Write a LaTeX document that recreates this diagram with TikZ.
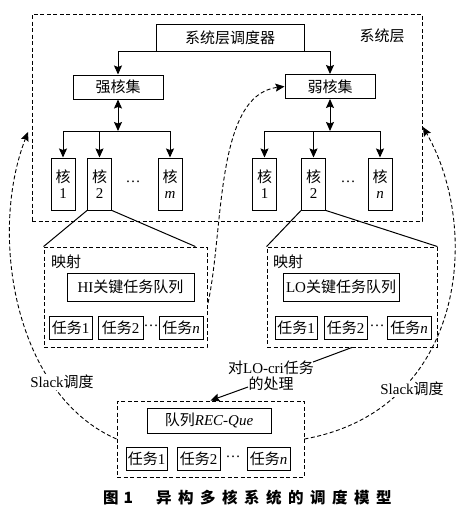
\documentclass[tikz,border=0pt]{standalone}
\usepackage{fontspec}
\setmainfont{Liberation Serif}
\newfontfamily\zh{Noto Sans CJK SC}
\usetikzlibrary{arrows.meta,calc}
\newcommand\capk{\kern6.5pt}
\newcommand\dotsx{\raisebox{3pt}{…}}
\begin{document}
\begin{tikzpicture}[x=1pt,y=-1pt,
  font=\fontsize{15}{16.5}\selectfont,
  sbox/.style={draw, line width=1pt, inner sep=0pt, align=center},
  dbox/.style={draw, line width=0.9pt, dash pattern=on 4pt off 2.5pt, inner sep=0pt},
  dline/.style={line width=0.9pt, dash pattern=on 4pt off 2.5pt},
  sline/.style={line width=1pt},
  arr/.style={-{Stealth[length=9pt,width=8pt,inset=1.5pt]}},
  darr/.style={{Stealth[length=9pt,width=8pt,inset=1.5pt]}-{Stealth[length=9pt,width=8pt,inset=1.5pt]}},
  core/.style={sbox, minimum width=24pt, minimum height=52pt},
  task/.style={sbox, minimum height=23pt},
  plain/.style={inner sep=0pt, align=center}]
\useasboundingbox (0,0) rectangle (474,509);
% system layer
\node[dbox, minimum width=390pt, minimum height=207pt] (sys) at (227,117.5) {};
\node[plain] (syslab) at (382,36) {\zh 系统层};
\node[sbox, minimum width=148pt, minimum height=27pt] (sched) at (230,37.5) {\zh 系统层调度器};
\node[sbox, minimum width=90pt, minimum height=24pt] (strong) at (118,87) {\zh 强核集};
\node[sbox, minimum width=90pt, minimum height=24pt] (weak) at (330,86.5) {\zh 弱核集};
\draw[sline,arr] (sched.south west) -| (strong.north);
\draw[sline,arr] (sched.south east) -| (weak.north);
% cores
\node[core] (lc1) at (63,184) {\zh 核\\1};
\node[core] (lc2) at (99.5,184) {\zh 核\\2};
\node[core] (lcm) at (170,184) {\zh 核\\\textit{m}};
\node[plain] (ldots) at (133,183) {\dotsx};
\node[core] (rc1) at (264.5,184) {\zh 核\\1};
\node[core] (rc2) at (313.5,184) {\zh 核\\2};
\node[core] (rcn) at (380,184) {\zh 核\\\textit{n}};
\node[plain] (rdots) at (348,183) {\dotsx};
\coordinate (busL) at (118,131);
\coordinate (busR) at (330,131);
\draw[sline,darr] (strong.south) -- (busL);
\draw[sline,arr] (busL) -| (lc1.north);
\draw[sline,arr] (busL) -| (lcm.north);
\draw[sline,arr] (lc2.north|-busL) -- (lc2.north);
\draw[sline,darr] (weak.south) -- (busR);
\draw[sline,arr] (busR) -| (rc1.north);
\draw[sline,arr] (busR) -| (rcn.north);
\draw[sline,arr] (rc2.north|-busR) -- (rc2.north);
% left mapping
\node[dbox, minimum width=163pt, minimum height=100pt] (mapL) at (125.5,297) {};
\node[plain, anchor=west] (mapLlab) at (51,262) {\zh 映射};
\node[sbox, minimum width=127pt, minimum height=28pt] (hiq) at (130.5,287) {HI{\zh 关键任务队列}};
\node[task, minimum width=43pt] (lt1) at (70.5,327.5) {{\zh 任务}1};
\node[task, minimum width=45pt] (lt2) at (120.5,327.5) {{\zh 任务}2};
\node[plain] (ltd) at (151,327) {\dotsx};
\node[task, minimum width=44pt] (ltn) at (181,327.5) {{\zh 任务}\textit{n}};
\coordinate (mapLtr) at ($(mapL.north east)+(-12,0)$);
\draw[sline] (lc2.south west) -- (mapL.north west);
\draw[sline] (lc2.south east) -- (mapLtr);
% right mapping
\node[dbox, minimum width=170pt, minimum height=100pt] (mapR) at (352,297) {};
\node[plain, anchor=west] (mapRlab) at (273,262) {\zh 映射};
\node[sbox, minimum width=116pt, minimum height=28pt] (loq) at (341,287) {LO{\zh 关键任务队列}};
\node[task, minimum width=42pt] (rt1) at (296,328) {{\zh 任务}1};
\node[task, minimum width=43pt] (rt2) at (345.5,328) {{\zh 任务}2};
\node[plain] (rtd) at (377,327) {\dotsx};
\node[task, minimum width=44pt] (rtn) at (409,328) {{\zh 任务}\textit{n}};
\draw[sline] (rc2.south west) -- (mapR.north west);
\draw[sline] (rc2.south east) -- (mapR.north east);
% REC queue
\node[dbox, minimum width=187pt, minimum height=76pt] (rec) at (210.5,439) {};
\node[sbox, minimum width=124pt, minimum height=25pt] (recq) at (209,420.5) {{\zh 队列}\textit{REC-Que}};
\node[task, minimum width=41pt] (qt1) at (146.5,458.5) {{\zh 任务}1};
\node[task, minimum width=43pt] (qt2) at (198.5,458.5) {{\zh 任务}2};
\node[plain] (qtd) at (233,458) {\dotsx};
\node[task, minimum width=43pt] (qtn) at (268.5,458.5) {{\zh 任务}\textit{n}};
% LO-cri label
\node[plain] (locri) at (271,376) {{\zh 对}LO-cri{\zh 任务}\\{\zh 的处理}};
\coordinate (locriA) at (313,362);
\coordinate (locriB) at (248,387);
\draw[sline] (mapR.south) -- (locriA);
\draw[sline,arr] (locriB) -- (rec.north);
% dashed curves
\draw[dline,arr] (rec.west) .. controls (15,395) and (-12,235) .. (28,132);
\draw[dline,arr] (rec.east) .. controls (465,410) and (482,230) .. (423,127);
\coordinate (midS) at (208,303);
\draw[dline,arr] (midS) .. controls (224,230) and (215,95) .. (weak.west);
\node[plain, fill=white, inner sep=1pt] (slackL) at (62,382) {Slack{\zh 调度}};
\node[plain, fill=white, inner sep=1pt] (slackR) at (412,389) {Slack{\zh 调度}};
% caption
\node[plain, anchor=west] (cap) at (103,498) {\fontsize{15.5}{17}\selectfont\zh\bfseries 图\hspace{5pt}1\hspace{23pt}异\capk 构\capk 多\capk 核\capk 系\capk 统\capk 的\capk 调\capk 度\capk 模\capk 型};
\end{tikzpicture}
\end{document}
